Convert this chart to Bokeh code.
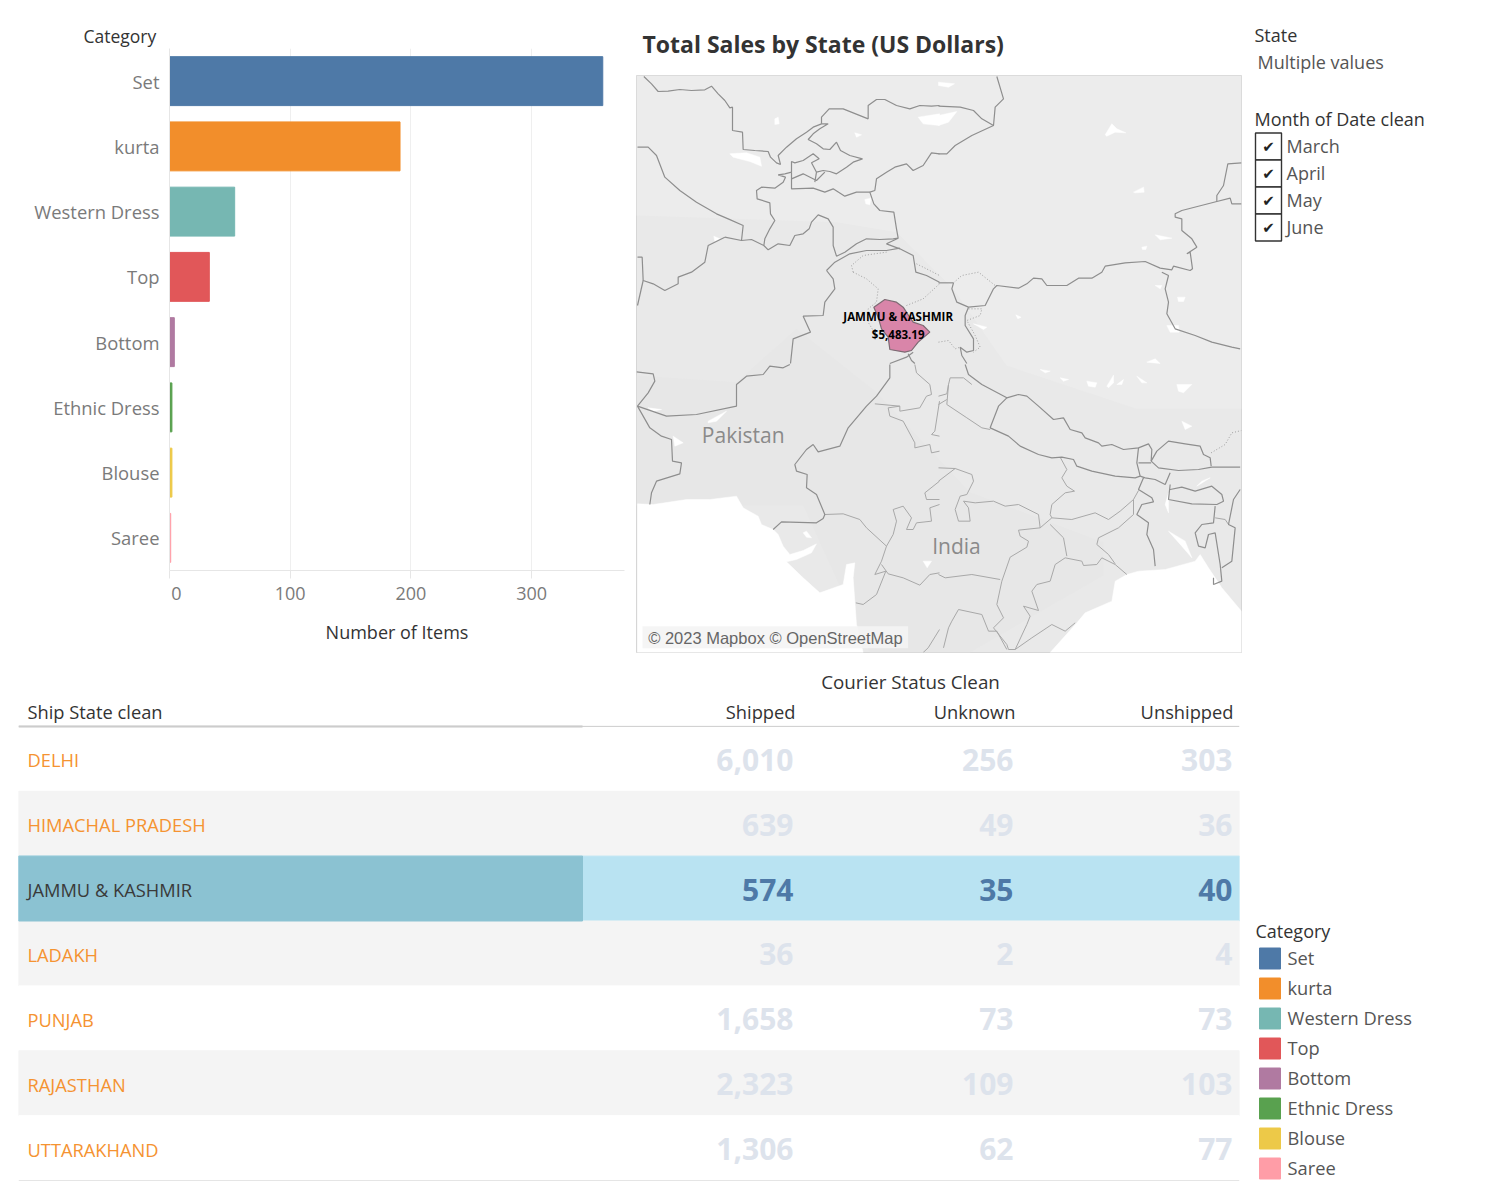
from bokeh.plotting import figure
from bokeh.layouts import row, column
from bokeh.models import Range1d, FactorRange, Title, FixedTicker, Span
from bokeh.core.properties import value
from bokeh.embed import file_html
from bokeh.resources import INLINE

FONT = "Open Sans"

categories = ["Set", "kurta", "Western Dress", "Top", "Bottom", "Ethnic Dress", "Blouse", "Saree"]
item_counts = [359, 191, 54, 33, 4, 2, 2, 1]
category_colors = ["#4e79a7", "#f28e2b", "#76b7b2", "#e15759", "#b07aa1", "#59a14f", "#edc948", "#ff9da7"]
item_ticks = [0, 100, 200, 300]

months = ["March", "April", "May", "June"]

states = ["DELHI", "HIMACHAL PRADESH", "JAMMU & KASHMIR", "LADAKH", "PUNJAB", "RAJASTHAN", "UTTARAKHAND"]
shipped = [6010, 639, 574, 36, 1658, 2323, 1306]
unknown = [256, 49, 35, 2, 73, 109, 62]
unshipped = [303, 36, 40, 4, 73, 103, 77]
selected_state = "JAMMU & KASHMIR"
selected_sales = "$5,483.19"

# Map geometry, one group per map quadrant.
NW, NE, SW, SE = (0, 0), (906, 0), (0, 867), (906, 867)

nw_country = [
    [(22,3),(45,25),(65,48),(95,47),(130,42),(165,45),(205,43),(225,32),(245,55),(265,75),(280,97),(288,95),(288,165),(318,170),(320,222),(355,225),(395,228),(402,245),(420,262),(432,267),(425,240),(450,215),(480,190),(510,170),(530,155),(555,145),(575,145),(550,160),(530,175),(515,192),(540,205),(560,220),(580,222),(600,200),(612,225),(640,240),(678,250),(650,260),(630,275),(600,295),(580,288),(560,285),(540,290),(525,262),(548,250),(530,235),(500,255),(475,262),(465,258),(465,290),(445,295),(425,298),(447,305),(440,320),(415,338),(375,335),(360,345),(362,370),(400,382),(402,415),(415,435),(400,460),(385,490),(382,510),(395,523),(425,505),(460,510),(475,480),(500,475),(518,460),(525,440),(545,418),(575,430),(590,455),(590,510),(600,542),(625,530),(660,505),(690,490),(730,492),(770,490),(785,488),(780,460),(772,410),(730,405),(712,385),(700,350),(715,345),(720,310),(750,290),(775,275),(810,265),(830,285),(860,270),(885,232),(909,235)],
    [(555,145),(555,125),(578,100),(620,100),(665,118),(695,130),(695,90),(720,72),(745,72),(780,90),(820,100),(850,90),(885,92),(909,90)],
    [(465,290),(465,340),(530,338),(565,350),(590,340),(625,362),(660,350),(700,350)],
    [(465,310),(500,295),(540,315),(565,290)],
    [(540,290),(535,320)],
    [(785,488),(750,505),(790,520),(830,540),(838,590),(870,600),(909,620)],
    [(570,585),(595,560),(640,535),(690,525),(750,525),(790,518)],
    [(570,585),(590,610),(595,640),(565,680),(560,720),(500,722),(522,770),(470,790),(462,864)],
    [(3,215),(35,215),(60,240),(85,305),(130,345),(180,380),(240,415),(275,430),(320,450),(315,495)],
    [(265,485),(315,495),(345,492),(382,510)],
    [(265,485),(215,510),(205,560),(165,590),(125,605),(125,625),(85,645),(50,625),(20,615),(17,545),(3,545)],
    [(20,615),(3,690)],
    [(830,830),(810,845),(760,864)],
    [(815,835),(825,855),(835,864)],
]
nw_disputed = [
    [(650,590),(645,570),(680,540),(750,530)],
    [(650,590),(690,610),(725,640),(720,680),(695,700),(695,740),(710,765)],
    [(810,690),(860,670),(909,625)],
    [(840,565),(870,580),(909,600)],
]
nw_water = [
    [(280,235),(330,232),(370,245),(375,272),(340,258),(290,245)],
    [(845,125),(909,115),(909,150),(860,145)],
    [(415,130),(425,125),(428,145),(415,147)],
    [(655,172),(675,178),(660,185)],
    [(685,372),(703,368),(700,388),(688,385)],
    [(232,482),(250,490),(235,497)],
]
ne_country = [
    [(175,3),(195,70),(170,95),(165,150),(100,180),(50,210),(25,235),(0,235)],
    [(0,92),(65,95),(105,105),(130,130),(165,150)],
    [(45,622),(40,640),(55,680),(90,695),(140,690),(165,640),(175,630),(240,638),(265,625),(285,608),(310,610),(325,630),(385,630),(420,608),(460,608),(490,590),(500,572),(560,562),(620,558),(665,578),(700,583),(705,572),(755,585),(762,580),(755,530),(745,535),(775,515),(760,490),(730,465),(730,430),(710,425),(710,415),(730,405),(835,378),(875,368),(880,385),(909,385)],
    [(835,378),(835,360),(855,330),(868,265),(909,262)],
    [(670,590),(690,600),(680,640),(690,680),(685,715),(710,760),(770,780),(820,800),(880,815),(905,820)],
    [(90,695),(80,720),(80,750),(105,790),(105,825),(85,830),(65,815),(70,840),(85,864)],
    [(0,622),(45,622)],
]
ne_disputed = [
    [(45,622),(70,600),(120,590),(170,630)],
    [(90,700),(130,700),(125,720),(85,735),(110,780),(125,815),(105,830)],
    [(0,800),(30,795),(50,820),(65,815)],
]
ne_water = [
    [(500,178),(520,145),(535,160),(562,172),(530,170),(505,182)],
    [(585,350),(615,335),(617,350),(590,352)],
    [(650,478),(700,488),(665,493)],
    [(610,515),(625,512),(622,522),(612,522)],
    [(0,20),(48,25),(30,35),(0,30)],
    [(0,120),(55,108),(30,140),(0,150)],
    [(650,630),(670,630),(665,640)],
    [(717,665),(740,665),(735,678),(720,678)],
    [(685,750),(720,750),(722,770),(695,770)],
    [(105,745),(145,755),(135,762)],
    [(232,718),(248,725),(238,730)],
    [(625,860),(650,850),(665,864)],
]
sw_country = [
    [(0,22),(50,28),(55,50),(35,85),(3,125),(90,155),(180,150),(300,125),(300,60),(330,35),(380,30),(400,5),(440,10),(460,0)],
    [(3,125),(40,190),(75,215),(105,225),(108,290),(135,295),(130,328),(60,350),(45,385),(40,420)],
    [(760,0),(760,40),(720,95),(690,125),(635,190),(610,245),(545,262),(530,240),(510,255),(475,300),(480,320),(512,330),(510,370),(540,390),(565,450),(560,462),(540,475),(435,472),(410,495)],
]
sw_state = [
    [(565,450),(620,448),(670,465),(690,490),(750,545),(735,590),(715,630),(748,620),(720,690),(680,720),(658,715)],
    [(750,545),(770,510),(780,470),(770,435),(800,425),(825,460),(810,495),(830,495),(840,475),(885,470),(880,430),(909,420)],
    [(735,600),(755,628),(800,640),(850,662),(880,630),(909,625)],
    [(715,118),(790,125),(790,140),(850,130),(870,95),(885,90),(880,60),(840,25),(835,0)],
    [(790,125),(755,130),(760,155),(800,170),(835,235),(835,250),(880,240),(885,265),(909,260)],
    [(909,110),(895,200),(885,210),(909,215)],
    [(909,350),(865,385),(870,405),(909,405)],
    [(909,795),(875,850),(860,864)],
]
sw_water = [
    [(3,418),(50,420),(150,405),(220,405),(300,395),(320,430),(365,455),(375,480),(410,495),(425,510),(440,545),(460,570),(500,558),(540,538),(525,565),(480,585),(450,592),(500,640),(550,685),(620,660),(630,600),(655,595),(650,640),(660,780),(680,864),(3,864)],
    [(35,130),(75,135),(50,140)],
    [(215,170),(270,140),(240,170),(215,175)],
    [(110,215),(140,235),(115,245)],
    [(500,505),(510,500),(525,520),(510,518)],
    [(860,590),(885,590),(872,610)],
]
se_country = [
    [(80,0),(90,30),(130,60),(205,100),(240,90),(265,95),(300,125),(345,165),(375,160),(395,195),(430,205),(440,220),(480,235),(490,245),(520,240),(555,255),(600,250),(630,238),(640,255),(638,290)],
    [(205,100),(180,125),(155,190),(210,215),(245,245),(300,270),(340,280),(370,278),(405,285),(415,305),(460,320),(530,335),(590,340),(605,335),(595,295),(600,250)],
    [(600,295),(638,295)],
    [(638,290),(655,260),(690,230),(740,238),(785,245),(795,270),(815,280),(818,305)],
    [(638,290),(660,310),(720,318),(780,315),(820,308),(905,308)],
    [(605,335),(620,340),(650,345),(680,360),(695,325)],
    [(615,340),(600,375),(640,400),(645,412),(610,420),(595,450),(630,475),(625,510),(645,555),(650,605)],
    [(695,360),(690,405),(760,418),(835,420),(855,410),(850,390),(820,365),(770,380),(730,368),(695,375)],
    [(830,425),(825,475),(790,480),(770,505),(780,545),(800,550),(810,510),(830,505),(845,600),(850,650),(825,660),(825,640)],
    [(905,375),(885,405),(870,480),(890,490),(880,590),(850,610)],
]
se_state = [
    [(30,60),(35,40),(75,40),(100,60)],
    [(30,60),(25,120),(85,160),(130,190),(155,195)],
    [(0,95),(25,88),(30,60)],
    [(0,120),(25,105)],
    [(365,278),(385,315),(370,340),(385,365),(408,380),(380,385),(340,420),(335,450),(340,460),(305,490),(240,497),(245,515),(270,530),(265,548),(215,578),(190,650),(175,720),(195,760),(165,790),(205,840),(210,855),(230,855),(265,780),(275,755),(255,725),(300,738),(280,680),(295,660),(335,650),(350,600),(380,580),(430,590),(435,603),(475,600),(490,580),(530,600),(565,630)],
    [(340,460),(400,465),(470,445),(510,465),(545,440),(585,405),(600,378)],
    [(335,480),(375,520),(385,575)],
    [(585,405),(585,450),(540,490),(480,520),(475,540),(510,570),(530,598)],
    [(0,310),(50,312),(100,330),(105,350),(85,390),(65,395),(50,435),(60,470),(95,470),(90,430),(75,410),(110,415),(165,410),(200,425),(240,420),(300,450),(305,490)],
    [(0,630),(20,640),(100,630),(185,645)],
    [(60,735),(130,750),(150,800),(175,800),(205,855)],
    [(60,735),(40,770),(30,790),(15,850)],
    [(230,855),(280,820),(340,780),(380,800),(410,775)],
    [(0,350),(50,312)],
    [(830,460),(860,465),(870,480)],
]
se_disputed = [
    [(818,265),(860,240),(880,205),(909,198)],
]
se_water = [
    [(335,864),(415,775),(440,745),(520,710),(530,650),(565,630),(600,620),(680,615),(770,590),(785,570),(810,610),(850,670),(909,740),(909,864)],
    [(305,15),(335,20),(320,25)],
    [(365,40),(390,45),(375,50)],
    [(445,50),(475,55),(470,68),(450,65)],
    [(505,65),(525,32),(525,55),(510,70)],
    [(535,60),(555,45),(550,60)],
    [(595,35),(625,55),(610,55)],
    [(715,60),(760,60),(735,85),(720,80)],
    [(730,170),(760,185),(740,195)],
    [(690,385),(690,445),(680,420)],
    [(690,500),(740,530),(760,580),(730,545)],
    [(815,340),(775,365),(790,350)],
]
jammu_kashmir = [(712,695),(745,672),(780,680),(800,695),(815,718),(830,740),(860,750),(880,770),(845,800),(825,825),(805,830),(760,822),(755,785),(735,760),(725,725)]
shade_light = [(0,0),(1815,0),(1815,1000),(1500,1000),(1110,870),(950,640),(780,470),(600,440),(0,420)]
shade_dark = [(0,1290),(0,900),(300,920),(480,760),(720,950),(1000,1250),(1400,1400),(1400,1500),(1000,1731),(700,1731),(500,1290)]
map_labels = ["Pakistan", "India"]
map_label_points = [(320, 1078), (960, 1410)]
sales_label_points = [(785, 722), (785, 777)]


def shift(paths, origin):
    return [[(q[0] + origin[0], q[1] + origin[1]) for q in path] for path in paths]


def unzip(paths):
    return [[q[0] for q in path] for path in paths], [[q[1] for q in path] for path in paths]


def bare(p):
    p.toolbar.logo = None
    p.outline_line_color = None
    p.border_fill_color = "white"
    p.background_fill_color = "white"
    return p


TXT = "#333333"
GREY = "#7a7a7a"

# ---------- bar chart ----------
bar = figure(width=632, height=660, output_backend="svg", toolbar_location=None,
             x_range=Range1d(0, 377), y_range=FactorRange(factors=categories[::-1], factor_padding=0, range_padding=0),
             min_border_left=169, min_border_right=8, min_border_top=48, min_border_bottom=90)
bare(bar)
bar.title = Title(text="Category", text_font=FONT, text_font_size="17.5px", text_font_style="normal",
                  text_color=TXT, align="left", offset=-86, standoff=2)
bar.hbar(y=categories, right=item_counts, left=0, height=0.75, color=category_colors)
bar.ygrid.visible = False
bar.xgrid.grid_line_color = "#efefef"
bar.xgrid.ticker = FixedTicker(ticks=item_ticks)
bar.xaxis.ticker = FixedTicker(ticks=item_ticks)
bar.xaxis.major_label_overrides = {0: "\u00a0\u00a0\u00a00"}
bar.xaxis.axis_label = "Number of Items"
bar.xaxis.axis_label_text_font = FONT
bar.xaxis.axis_label_text_font_style = "normal"
bar.xaxis.axis_label_text_font_size = "18px"
bar.xaxis.axis_label_text_color = TXT
bar.xaxis.axis_label_standoff = 12
bar.xaxis.major_label_text_font = FONT
bar.xaxis.major_label_text_font_size = "18px"
bar.xaxis.major_label_text_color = GREY
bar.xaxis.major_label_standoff = 2
bar.xaxis.axis_line_color = "#e6e6e6"
bar.xaxis.major_tick_line_color = "#e6e6e6"
bar.xaxis.major_tick_out = 8
bar.xaxis.major_tick_in = 0
bar.xaxis.minor_tick_line_color = None
bar.yaxis.major_label_text_font = FONT
bar.yaxis.major_label_text_font_size = "18.4px"
bar.yaxis.major_label_text_color = GREY
bar.yaxis.major_label_standoff = 4
bar.yaxis.axis_line_color = "#e6e6e6"
bar.yaxis.major_tick_line_color = None
bar.yaxis.minor_tick_line_color = None

# ---------- map ----------
mp = figure(width=614, height=660, output_backend="svg", toolbar_location=None,
            x_range=Range1d(0, 1815), y_range=Range1d(1731, 0),
            min_border_left=4, min_border_right=5, min_border_top=75, min_border_bottom=8)
mp.title = Title(text="Total Sales by State (US Dollars)", text_font=FONT, text_font_size="23px",
                 text_font_style="bold", text_color="#333333", align="left", offset=6, standoff=32)
mp.toolbar.logo = None
mp.background_fill_color = "#e9e9e9"
mp.outline_line_color = "#d6d6d6"
mp.axis.visible = False
mp.grid.visible = False
for poly, shade in [(shade_light, "#ececec"), (shade_dark, "#e7e7e7")]:
    xs, ys = zip(*poly)
    mp.patch(list(xs), list(ys), color=shade, line_color=None)
water = shift(nw_water, NW) + shift(ne_water, NE) + shift(sw_water, SW) + shift(se_water, SE)
xs, ys = unzip(water)
mp.patches(xs, ys, color="white", line_color="white", line_width=0.5)
xs, ys = unzip(shift(sw_state, SW) + shift(se_state, SE))
mp.multi_line(xs, ys, line_color="#a8a8a8", line_width=1)
xs, ys = unzip(shift(nw_country, NW) + shift(ne_country, NE) + shift(sw_country, SW) + shift(se_country, SE))
mp.multi_line(xs, ys, line_color="#8e8e8e", line_width=1.2)
xs, ys = unzip(shift(nw_disputed, NW) + shift(ne_disputed, NE) + shift(se_disputed, SE))
mp.multi_line(xs, ys, line_color="#a0a0a0", line_width=1, line_dash="1 2")
xs, ys = zip(*jammu_kashmir)
mp.patch(list(xs), list(ys), fill_color="#d985a9", line_color="#7d6a73", line_width=1.2)
mp.text(x=[q[0] for q in map_label_points], y=[q[1] for q in map_label_points], text=map_labels,
        text_font=value(FONT), text_font_size="21px", text_color="#8a8a8a", text_align="center", text_baseline="middle")
mp.text(x=[q[0] for q in sales_label_points], y=[q[1] for q in sales_label_points], text=[selected_state, selected_sales],
        text_font=value(FONT), text_font_size="11.5px", text_font_style="bold", text_color="black",
        text_align="center", text_baseline="middle")
mp.quad(left=[18], right=[815], top=[1652], bottom=[1718], color="#f4f4f4", alpha=0.9, line_color=None)
mp.text(x=[35], y=[1687], text=["\u00a9 2023 Mapbox \u00a9 OpenStreetMap"], text_font=value("Liberation Sans"),
        text_font_size="16.5px", text_color="#666666", text_align="left", text_baseline="middle")

# ---------- filters ----------
side = figure(width=244, height=660, output_backend="svg", toolbar_location=None,
              x_range=Range1d(1246, 1490), y_range=Range1d(660, 0),
              min_border_left=0, min_border_right=0, min_border_top=0, min_border_bottom=0)
bare(side)
side.axis.visible = False
side.grid.visible = False
side.text(x=[1254, 1254], y=[34, 118], text=["State", "Month of Date clean"], text_font=value(FONT),
          text_font_size="18px", text_color=TXT, text_baseline="middle")
side.text(x=[1257], y=[61], text=["Multiple values"], text_font=value(FONT), text_font_size="18px",
          text_color="#555555", text_baseline="middle")
mid = [146 + 27 * i for i in range(len(months))]
side.rect(x=[1268] * 4, y=mid, width=26, height=27, fill_color="white", line_color="#333333", line_width=1.4)
side.text(x=[1268] * 4, y=mid, text=["\u2714"] * 4, text_font=value("DejaVu Sans"), text_font_size="15px",
          text_color="#222222", text_align="center", text_baseline="middle")
side.text(x=[1286] * 4, y=[m - 1 for m in mid], text=months, text_font=value(FONT), text_font_size="18px",
          text_color="#555555", text_baseline="middle")

# ---------- table ----------
HEADER = "header"
band = {s: ("white" if i % 2 == 0 else "#f4f4f4") for i, s in enumerate(states)}
tbl = figure(width=1246, height=530, output_backend="svg", toolbar_location=None,
             x_range=Range1d(18, 1239), y_range=FactorRange(factors=states[::-1] + [HEADER], factor_padding=0, range_padding=0),
             min_border_left=18, min_border_right=7, min_border_top=1, min_border_bottom=10)
bare(tbl)
tbl.axis.visible = False
tbl.grid.visible = False
SPLIT = 582
tbl.hbar(y=states, left=18, right=1239, height=1.0,
         color=["#b9e3f2" if s == selected_state else band[s] for s in states])
tbl.hbar(y=[selected_state], left=18, right=SPLIT, height=1.0, color="#8bc2d2")
tbl.text(x=27, y=states, y_offset=1, text=states, text_font=value(FONT), text_font_size="18.3px",
         text_color=["#3a3a3a" if s == selected_state else "#f59331" for s in states], text_baseline="middle")
for right, vals in zip([793, 1013, 1232], [shipped, unknown, unshipped]):
    tbl.text(x=right, y=states, y_offset=1, text=[f"{v:,}" for v in vals], text_font=value(FONT),
             text_font_size="30px", text_font_style="bold", text_align="right", text_baseline="middle",
             text_color=["#4e79a7" if s == selected_state else "#dde3ec" for s in states])
tbl.text(x=[910], y=[HEADER], y_offset=-12, text=["Courier Status Clean"], text_font=value(FONT),
         text_font_size="18.8px", text_color=TXT, text_align="center", text_baseline="middle")
tbl.text(x=[27], y=[HEADER], y_offset=18, text=["Ship State clean"], text_font=value(FONT),
         text_font_size="18.3px", text_color=TXT, text_align="left", text_baseline="middle")
tbl.text(x=[795, 1015, 1233], y=[HEADER] * 3, y_offset=18, text=["Shipped", "Unknown", "Unshipped"], text_font=value(FONT),
         text_font_size="18.3px", text_color=TXT, text_align="right", text_baseline="middle")
tbl.add_layout(Span(location=0, dimension="width", line_color="#cccccc", line_width=1))
tbl.add_layout(Span(location=7, dimension="width", line_color="#cccccc", line_width=1))
tbl.segment(x0=[18], x1=[SPLIT], y0=[7], y1=[7], line_color="#c8c8c8", line_width=2)

# ---------- legend ----------
leg = figure(width=244, height=530, output_backend="svg", toolbar_location=None,
             x_range=Range1d(1246, 1490), y_range=Range1d(1190, 660),
             min_border_left=0, min_border_right=0, min_border_top=0, min_border_bottom=0)
bare(leg)
leg.axis.visible = False
leg.grid.visible = False
leg.text(x=[1255], y=[930], text=["Category"], text_font=value(FONT), text_font_size="18px",
         text_color=TXT, text_baseline="middle")
ly = [958 + 30 * i for i in range(len(categories))]
leg.rect(x=[1269.5] * len(ly), y=ly, width=21, height=21, color=category_colors)
leg.text(x=[1287] * len(ly), y=[v - 1 for v in ly], text=categories, text_font=value(FONT), text_font_size="18.3px",
         text_color="#555555", text_baseline="middle")

page = column(row(column(bar), column(mp), column(side), spacing=0),
              row(column(tbl), column(leg), spacing=0), spacing=0)
open("out.html", "w").write(file_html(page, INLINE))
